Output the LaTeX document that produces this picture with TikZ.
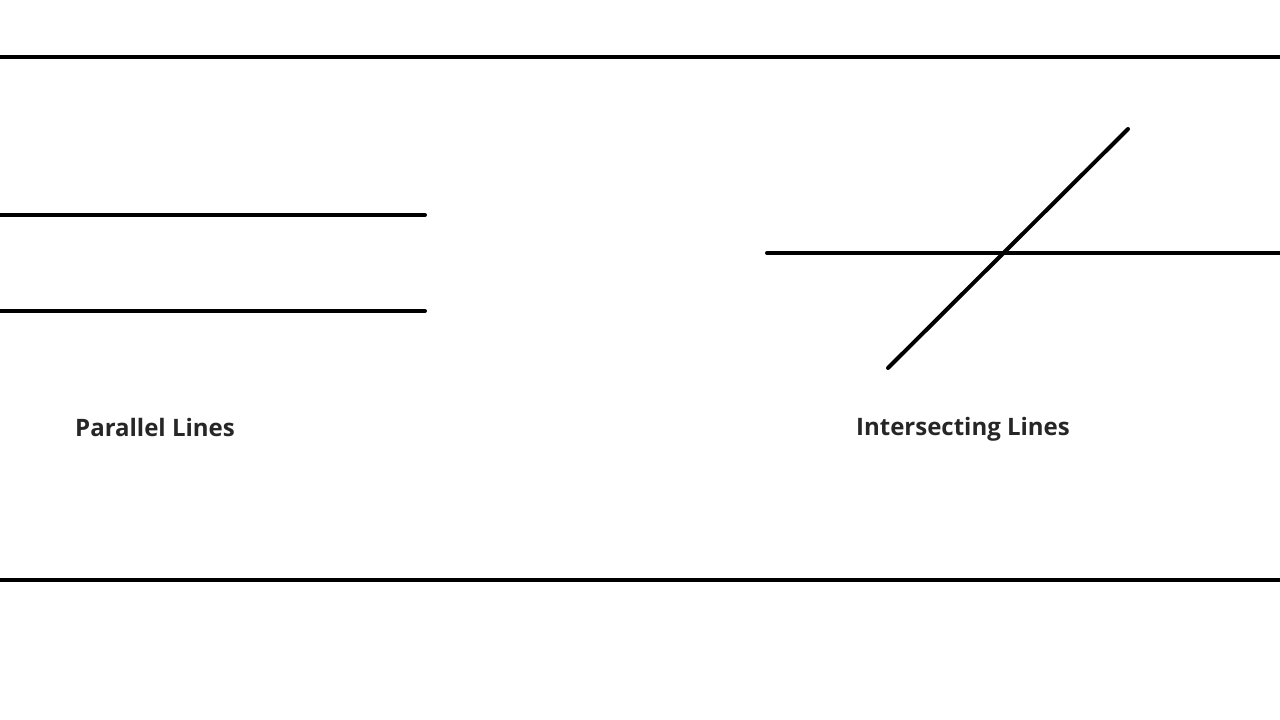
\documentclass[tikz,border=0pt]{standalone}
\usepackage{fontspec}
\setmainfont{Open Sans}
\begin{document}
\begin{tikzpicture}[x=0.75pt,y=-0.75pt,
  ln/.style={line width=3pt,line cap=round},
  lbl/.style={font=\bfseries\fontsize{18}{22}\selectfont,text=black!85}]
\useasboundingbox (0,0) rectangle (1280,720);
\coordinate (t1) at (-5,57); \coordinate (t2) at (1285,57);
\coordinate (b1) at (-5,580); \coordinate (b2) at (1285,580);
\draw[ln] (t1) -- (t2);
\draw[ln] (b1) -- (b2);
\coordinate (p1a) at (-5,215); \coordinate (p1b) at (425,215);
\coordinate (p2a) at (-5,311); \coordinate (p2b) at (425,311);
\draw[ln] (p1a) -- (p1b);
\draw[ln] (p2a) -- (p2b);
\coordinate (h1) at (767,253); \coordinate (h2) at (1285,253);
\coordinate (d1) at (888,368); \coordinate (d2) at (1128,129);
\draw[ln] (h1) -- (h2);
\draw[ln] (d1) -- (d2);
\node[lbl] (pl) at (155,427) {Parallel Lines};
\node[lbl] (il) at (963,429) {Intersecting Lines};
\end{tikzpicture}
\end{document}
